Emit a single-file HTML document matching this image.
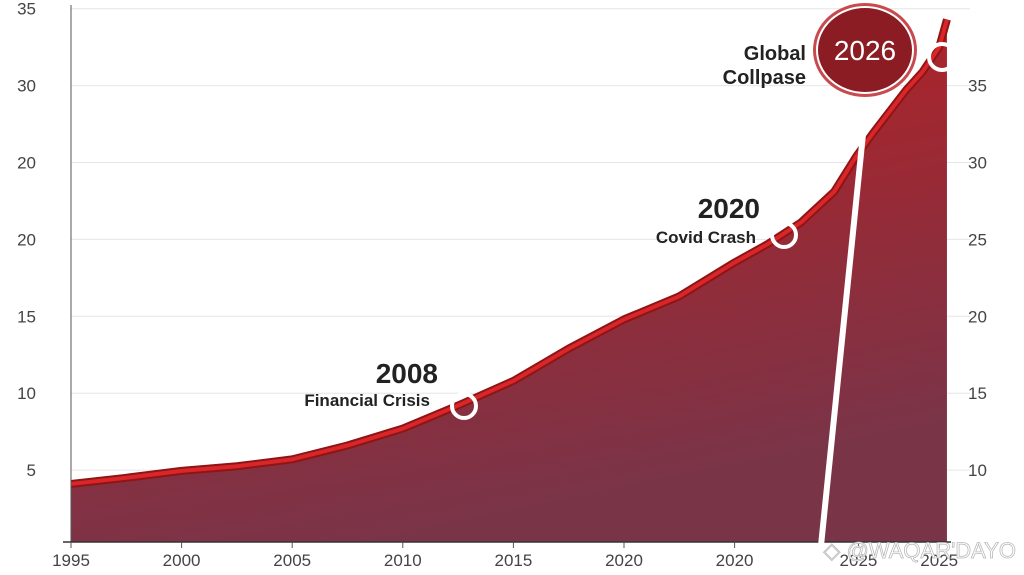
<!DOCTYPE html>
<html><head><meta charset="utf-8">
<style>
html,body{margin:0;padding:0;background:#fff;width:1024px;height:575px;overflow:hidden}
svg{display:block;font-family:"Liberation Sans",sans-serif}
</style></head>
<body>
<svg id="chart" width="1024" height="575" viewBox="0 0 1024 575">
<defs>
<linearGradient id="fillg" x1="0" y1="0" x2="0.35" y2="1">
<stop offset="0" stop-color="#dc2a26"/>
<stop offset="0.35" stop-color="#a8252c"/>
<stop offset="1" stop-color="#7a3448"/>
</linearGradient>
<linearGradient id="fillh" x1="0" y1="0" x2="1" y2="0">
<stop offset="0" stop-color="#7a3448" stop-opacity="0.35"/>
<stop offset="0.7" stop-color="#7a3448" stop-opacity="0"/>
</linearGradient>
</defs>
<g id="grid"></g>
<g id="area"></g>
<g id="axes"></g>
</svg>
<script>
// data (x as tick-index position, y in left-axis units)
const pointT = [0,0.5,1,1.5,2,2.5,3,3.5,4,4.5,5,5.5,6,6.3,6.6,6.9,7.1,7.25,7.4,7.55,7.7,7.85,7.92];
const pointV = [4.1,4.5,4.95,5.25,5.7,6.6,7.7,9.2,10.8,12.9,14.8,16.3,18.5,19.7,21.1,23.1,25.4,26.9,28.3,29.7,30.9,32.5,34.3];
const xTickT = [0,1,2,3,4,5,6,7.12,7.85];
const xTickLabels = ["1995","2000","2005","2010","2015","2020","2020","2025","2025"];
const leftTickV = [5,10,15,20,25,30,35];
const leftTickLabels = ["5","10","15","20","20","30","35"];
const rightTickV = [5,10,15,20,25,30];
const rightTickLabels = ["10","15","20","25","30","35"];
const NS="http://www.w3.org/2000/svg";
const X0=71,X1=951,Y0=542;
function xs(t){return X0+t*110.6;}
function ys(v){return 547-v*15.38;}
function mk(tag,attrs,parent){const e=document.createElementNS(NS,tag);for(const k in attrs)e.setAttribute(k,attrs[k]);parent.appendChild(e);return e;}
const grid=document.getElementById('grid'),area=document.getElementById('area'),axes=document.getElementById('axes');
leftTickV.forEach((v,i)=>{
  const l=mk('line',{x1:X0,x2:970,y1:ys(v),y2:ys(v),stroke:'#e6e6e6','stroke-width':1},grid);
  
  
  const t=mk('text',{x:36,y:ys(v)+6,'text-anchor':'end','font-size':17,fill:'#444'},axes);
  t.textContent=leftTickLabels[i];
  
  
});
rightTickV.forEach((v,i)=>{
  const t=mk('text',{x:968,y:ys(v)+6,'font-size':17,fill:'#444'},axes);
  t.textContent=rightTickLabels[i];
  
  
});
let d='M'+xs(pointT[0])+','+Y0;
let ld='';
pointT.forEach((t,i)=>{d+=' L'+xs(t)+','+ys(pointV[i]);ld+=(i?' L':'M')+xs(t)+','+ys(pointV[i]);});
d+=' L'+xs(pointT[pointT.length-1])+','+Y0+' Z';
const a=mk('path',{d:d,fill:'url(#fillg)'},area);


const a2=mk('path',{d:d,fill:'url(#fillh)'},area);


const ln=mk('path',{d:ld,fill:'none',stroke:'#8f1414','stroke-width':8,'stroke-linejoin':'round'},area);


const ln2=mk('path',{d:ld,fill:'none',stroke:'#d8262a','stroke-width':4,'stroke-linejoin':'round'},area);


const ax=mk('line',{x1:X0,x2:X0,y1:5,y2:Y0,stroke:'#555','stroke-width':1},axes);


const bx=mk('line',{x1:X0-8,x2:X1,y1:Y0,y2:Y0,stroke:'#333','stroke-width':1.5},axes);


xTickT.forEach((t,i)=>{
  const tk=mk('line',{x1:xs(t),x2:xs(t),y1:Y0,y2:Y0+6,stroke:'#555'},axes);
  
  
  const tx=mk('text',{x:xs(t),y:566,'text-anchor':'middle','font-size':17,fill:'#444'},axes);
  tx.textContent=xTickLabels[i];
  
  
});
</script>
<svg width="1024" height="575" style="position:absolute;left:0;top:0">
<line x1="866" y1="105" x2="818" y2="575" stroke="#fff" stroke-width="6" stroke-linecap="round"/>
<circle cx="464" cy="406" r="12" fill="none" stroke="#fff" stroke-width="4"/>
<circle cx="784" cy="235" r="12" fill="none" stroke="#fff" stroke-width="4"/>
<circle cx="942" cy="57" r="13" fill="none" stroke="#fff" stroke-width="4"/>
<text x="438" y="383" text-anchor="end" font-size="28" font-weight="bold" fill="#222">2008</text>
<text x="430" y="406" text-anchor="end" font-size="17" font-weight="bold" fill="#222">Financial Crisis</text>
<text x="760" y="218" text-anchor="end" font-size="28" font-weight="bold" fill="#222">2020</text>
<text x="756" y="243" text-anchor="end" font-size="17" font-weight="bold" fill="#222">Covid Crash</text>
<text x="806" y="60" text-anchor="end" font-size="20" font-weight="bold" fill="#222">Global</text>
<text x="806" y="84" text-anchor="end" font-size="20" font-weight="bold" fill="#222">Collpase</text>
<ellipse cx="865" cy="50" rx="52" ry="47" fill="#c84a4e"/>
<ellipse cx="865" cy="50" rx="48" ry="43" fill="#8c1c24" stroke="#fff" stroke-width="2"/>
<text x="865" y="60" text-anchor="middle" font-size="28" fill="#fff">2026</text>
<text x="1016" y="558" text-anchor="end" font-size="22" fill="#fff" stroke="#bbb" stroke-width="0.8">◇ @WAQAR'DAYO</text>
</svg>
</body></html>
